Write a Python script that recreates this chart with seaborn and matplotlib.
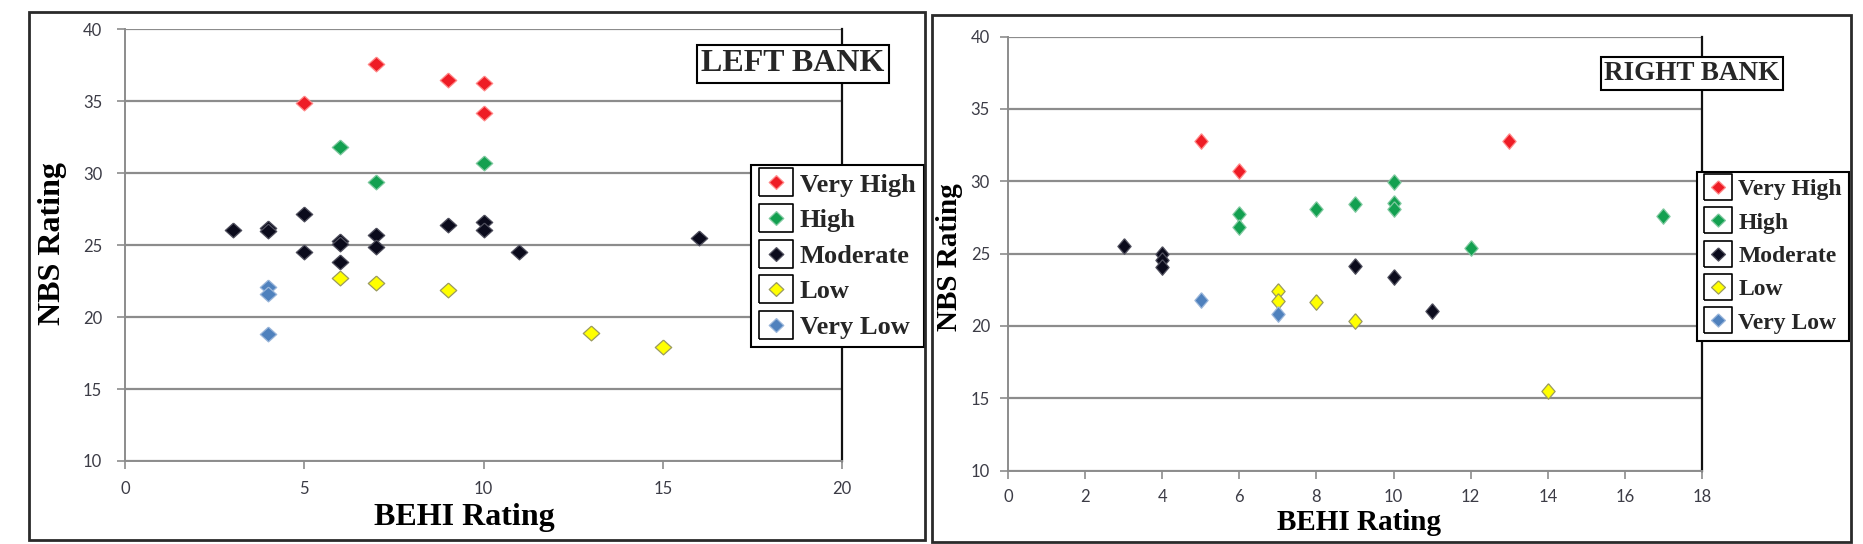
import numpy as np
import pandas as pd
import matplotlib
matplotlib.use("Agg")
import matplotlib.pyplot as plt
import seaborn as sns
from matplotlib.lines import Line2D
from matplotlib.patches import Rectangle

sns.set_theme(style="white")
plt.rcParams["font.family"] = ["Lato", "DejaVu Sans"]

CATEGORY_ORDER = ["Very High", "High", "Moderate", "Low", "Very Low"]
FACE = {"Very High": "#ee1c25", "High": "#13a050", "Moderate": "#0b0b1c",
        "Low": "#ffff00", "Very Low": "#4f81bd"}
EDGE = {"Very High": "#ff8a8a", "High": "#80c9a0", "Moderate": "#50505e",
        "Low": "#9a9a60", "Very Low": "#9ab6da"}

# left bank
left_behi = [5, 7, 9, 10, 10,
             6, 7, 10,
             3, 4, 4, 5, 5, 6, 6, 6, 7, 7, 9, 10, 10, 11, 16,
             6, 7, 9, 13, 15,
             4, 4, 4]
left_nbs = [34.9, 37.6, 36.5, 36.3, 34.2,
            31.8, 29.4, 30.7,
            26.05, 26.2, 26.0, 27.2, 24.5, 25.3, 25.1, 23.85, 25.7, 24.9, 26.4, 26.6, 26.05, 24.55, 25.5,
            22.7, 22.35, 21.9, 18.9, 17.95,
            22.1, 21.6, 18.85]
left_class = (["Very High"] * 5 + ["High"] * 3 + ["Moderate"] * 15
              + ["Low"] * 5 + ["Very Low"] * 3)

# right bank
right_behi = [5, 6, 13,
              6, 6, 8, 9, 10, 10, 10, 12, 17,
              3, 4, 4, 4, 9, 10, 11,
              7, 7, 8, 9, 14,
              5, 7]
right_nbs = [32.75, 30.7, 32.75,
             27.7, 26.8, 28.1, 28.45, 29.95, 28.5, 28.1, 25.4, 27.6,
             25.55, 25.0, 24.55, 24.05, 24.15, 23.4, 21.0,
             22.4, 21.7, 21.65, 20.35, 15.5,
             21.8, 20.85]
right_class = (["Very High"] * 3 + ["High"] * 9 + ["Moderate"] * 7
               + ["Low"] * 5 + ["Very Low"] * 2)

SERIF = ["Liberation Serif", "DejaVu Serif"]


def diamond(w, h):
    return [(0, h), (w, 0), (0, -h), (-w, 0), (0, h)]


def draw_panel(ax, df, xmax, xstep, cfg):
    for cat in CATEGORY_ORDER:
        sub = df[df["cls"] == cat]
        sns.scatterplot(data=sub, x="behi", y="nbs", marker=cfg["marker"],
                        s=cfg["s"], color=FACE[cat], edgecolor=EDGE[cat],
                        linewidth=0.9, ax=ax, legend=False, zorder=3)
    ax.set_xlim(0, xmax)
    ax.set_ylim(10, 40)
    ax.set_xticks(np.arange(0, xmax + 1, xstep))
    ax.set_yticks(np.arange(10, 41, 5))
    ax.yaxis.grid(True, color="#8c8c8c", linewidth=1.6)
    ax.xaxis.grid(False)
    ax.set_axisbelow(True)
    for side in ["left", "bottom"]:
        ax.spines[side].set_color("#8c8c8c")
        ax.spines[side].set_linewidth(1.4)
    ax.spines["top"].set_visible(False)
    ax.spines["right"].set_color("#111111")
    ax.spines["right"].set_linewidth(1.6)
    ax.tick_params(axis="both", direction="out", length=5.5, width=1.2,
                   color="#8c8c8c", labelcolor="#3c3c46", labelsize=12,
                   bottom=True, left=True)
    ax.tick_params(axis="x", pad=cfg["xpad"])
    ax.tick_params(axis="y", pad=cfg["ypad"])
    ax.set_xlabel("BEHI Rating", family=SERIF, fontweight="bold",
                  fontsize=cfg["label_size"], color="black", va="center")
    ax.set_ylabel("NBS Rating", family=SERIF, fontweight="bold",
                  fontsize=cfg["label_size"], color="black", va="center")
    ax.xaxis.set_label_coords(*cfg["xlabel_xy"])
    ax.yaxis.set_label_coords(*cfg["ylabel_xy"])

    fig = ax.figure
    fig.text(cfg["title_xy"][0], cfg["title_xy"][1], cfg["title"], family=SERIF,
             fontweight="bold", fontsize=cfg["title_size"], ha="center",
             va="center", zorder=10,
             bbox=dict(boxstyle="square,pad=0.14", facecolor="white",
                       edgecolor="black", linewidth=1.5))

    bw, bh = cfg["box"]
    handles = []
    for cat in CATEGORY_ORDER:
        box = Line2D([], [], linestyle="none",
                     marker=[(-bw, -bh), (bw, -bh), (bw, bh), (-bw, bh), (-bw, -bh)],
                     markersize=cfg["box_size"], markerfacecolor="white",
                     markeredgecolor="black", markeredgewidth=1.2)
        dia = Line2D([], [], linestyle="none", marker=diamond(1, 0.95),
                     markersize=cfg["leg_marker"], markerfacecolor=FACE[cat],
                     markeredgecolor=EDGE[cat], markeredgewidth=0.9)
        handles.append((box, dia))
    leg = ax.legend(handles, CATEGORY_ORDER, loc="upper left",
                    bbox_to_anchor=cfg["legend_xy"], bbox_transform=fig.transFigure,
                    frameon=True, fancybox=False, framealpha=1,
                    edgecolor="black", borderpad=0.3,
                    labelspacing=cfg["labelspacing"],
                    handlelength=cfg["handlelength"], handletextpad=0.25,
                    prop={"family": SERIF, "weight": "bold",
                          "size": cfg["legend_size"]})
    leg.get_frame().set_linewidth(1.5)
    leg.set_zorder(10)


fig = plt.figure(figsize=(18.63, 5.44), dpi=100)
fig.patch.set_facecolor("white")

fig.patches.append(Rectangle((0.0156, 0.0074), 0.481, 0.9706, transform=fig.transFigure,
                             fill=False, edgecolor="#2a2a2a", linewidth=2))
fig.patches.append(Rectangle((0.5003, 0.0037), 0.4933, 0.9695, transform=fig.transFigure,
                             fill=False, edgecolor="#2a2a2a", linewidth=2))

left_df = pd.DataFrame({"behi": left_behi, "nbs": left_nbs, "cls": left_class})
right_df = pd.DataFrame({"behi": right_behi, "nbs": right_nbs, "cls": right_class})

left_cfg = dict(marker=diamond(1, 0.9), s=140, xpad=9, ypad=11,
                label_size=23, xlabel_xy=(0.4735, -0.13), ylabel_xy=(-0.1018, 0.505),
                title="LEFT BANK", title_xy=(0.4257, 0.8829), title_size=23,
                box=(1.0, 0.84), box_size=24.5, leg_marker=10.5,
                legend_xy=(0.3961, 0.7206), labelspacing=0.46, handlelength=1.3,
                legend_size=19)
right_cfg = dict(marker=diamond(0.85, 1), s=125, xpad=8, ypad=7.5,
                 label_size=21, xlabel_xy=(0.505, -0.1207), ylabel_xy=(-0.085, 0.4919),
                 title="RIGHT BANK", title_xy=(0.9082, 0.8653), title_size=19.5,
                 box=(1.0, 0.95), box_size=20, leg_marker=10,
                 legend_xy=(0.9045, 0.7059), labelspacing=0.5, handlelength=1.2,
                 legend_size=17)

ax1 = fig.add_axes([0.0671, 0.1526, 0.3849, 0.7932])
draw_panel(ax1, left_df, 20, 5, left_cfg)

ax2 = fig.add_axes([0.5411, 0.1351, 0.3725, 0.7978])
draw_panel(ax2, right_df, 18, 2, right_cfg)

fig.savefig("out.png", dpi=100, facecolor="white")
